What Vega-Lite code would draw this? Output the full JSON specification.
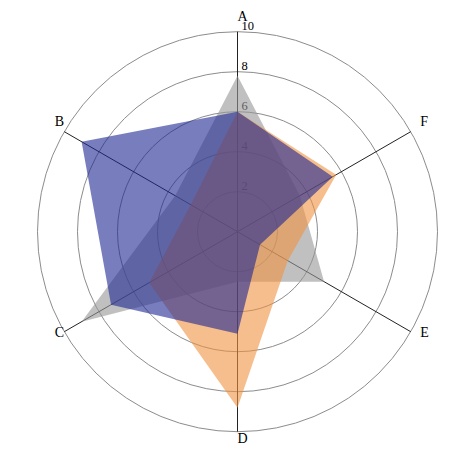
{
  "$schema": "https://vega.github.io/schema/vega-lite/v6.json",
  "width": 474,
  "height": 454,
  "autosize": "none",
  "padding": 0,
  "config": {"view": {"stroke": null}},
  "datasets": {
    "rings": [{"r": 2}, {"r": 4}, {"r": 6}, {"r": 8}, {"r": 10}],
    "spokes": [
      {"axis": "A", "i": 0}, {"axis": "B", "i": 1}, {"axis": "C", "i": 2},
      {"axis": "D", "i": 3}, {"axis": "E", "i": 4}, {"axis": "F", "i": 5}
    ],
    "vals": [
      {"s": "gray", "axis": "A", "i": 0, "v": 7.8},
      {"s": "gray", "axis": "B", "i": 1, "v": 3.6},
      {"s": "gray", "axis": "C", "i": 2, "v": 9},
      {"s": "gray", "axis": "D", "i": 3, "v": 2.5},
      {"s": "gray", "axis": "E", "i": 4, "v": 5},
      {"s": "gray", "axis": "F", "i": 5, "v": 3.6},
      {"s": "orange", "axis": "A", "i": 0, "v": 6},
      {"s": "orange", "axis": "B", "i": 1, "v": 2.7},
      {"s": "orange", "axis": "C", "i": 2, "v": 5.1},
      {"s": "orange", "axis": "D", "i": 3, "v": 8.8},
      {"s": "orange", "axis": "E", "i": 4, "v": 2.9},
      {"s": "orange", "axis": "F", "i": 5, "v": 5.7},
      {"s": "blue", "axis": "A", "i": 0, "v": 6},
      {"s": "blue", "axis": "B", "i": 1, "v": 9},
      {"s": "blue", "axis": "C", "i": 2, "v": 7.3},
      {"s": "blue", "axis": "D", "i": 3, "v": 5.1},
      {"s": "blue", "axis": "E", "i": 4, "v": 1.3},
      {"s": "blue", "axis": "F", "i": 5, "v": 5.5}
    ]
  },
  "layer": [
    {
      "data": {"name": "rings"},
      "transform": [{"calculate": "0", "as": "o"}],
      "mark": {"type": "point", "shape": "circle", "filled": false, "stroke": "#8c8c8c", "strokeWidth": 1, "opacity": 1},
      "encoding": {
        "x": {"field": "o", "type": "quantitative", "scale": {"domain": [-11.875, 11.825], "nice": false, "zero": false}, "axis": null},
        "y": {"field": "o", "type": "quantitative", "scale": {"domain": [-11.115, 11.585], "nice": false, "zero": false}, "axis": null},
        "size": {"field": "r", "type": "quantitative", "scale": {"type": "pow", "exponent": 2, "domain": [0, 10], "range": [0, 160000]}, "legend": null}
      }
    },
    {
      "data": {"name": "spokes"},
      "transform": [
        {"calculate": "0", "as": "o"},
        {"calculate": "(90 + 60 * datum.i) * PI / 180", "as": "a"},
        {"calculate": "10 * cos(datum.a)", "as": "ex"},
        {"calculate": "10 * sin(datum.a)", "as": "ey"}
      ],
      "mark": {"type": "rule", "color": "#222222", "strokeWidth": 1},
      "encoding": {
        "x": {"field": "o", "type": "quantitative", "scale": {"domain": [-11.875, 11.825], "nice": false, "zero": false}, "axis": null},
        "y": {"field": "o", "type": "quantitative", "scale": {"domain": [-11.115, 11.585], "nice": false, "zero": false}, "axis": null},
        "x2": {"field": "ex"},
        "y2": {"field": "ey"}
      }
    },
    {
      "data": {"name": "spokes"},
      "transform": [
        {"calculate": "(90 + 60 * datum.i) * PI / 180", "as": "a"},
        {"calculate": "10.55 * cos(datum.a)", "as": "lx"},
        {"calculate": "10.55 * sin(datum.a)", "as": "ly"}
      ],
      "mark": {"type": "text", "align": "left", "baseline": "alphabetic", "font": "Liberation Serif", "fontSize": 14, "color": "#000000"},
      "encoding": {
        "x": {"field": "lx", "type": "quantitative", "scale": {"domain": [-11.875, 11.825], "nice": false, "zero": false}, "axis": null},
        "y": {"field": "ly", "type": "quantitative", "scale": {"domain": [-11.115, 11.585], "nice": false, "zero": false}, "axis": null},
        "text": {"field": "axis", "type": "nominal"}
      }
    },
    {
      "data": {"name": "rings"},
      "transform": [{"calculate": "0", "as": "o"}],
      "mark": {"type": "text", "align": "left", "baseline": "alphabetic", "dx": 4, "dy": -1.5, "font": "Liberation Serif", "fontSize": 12.5, "color": "#000000"},
      "encoding": {
        "x": {"field": "o", "type": "quantitative", "scale": {"domain": [-11.875, 11.825], "nice": false, "zero": false}, "axis": null},
        "y": {"field": "r", "type": "quantitative", "scale": {"domain": [-11.115, 11.585], "nice": false, "zero": false}, "axis": null},
        "text": {"field": "r", "type": "quantitative"}
      }
    },
    {
      "data": {"name": "vals"},
      "transform": [
        {"filter": "datum.s === 'gray'"},
        {"calculate": "(90 + 60 * datum.i) * PI / 180", "as": "a"},
        {"calculate": "datum.v * cos(datum.a)", "as": "px"},
        {"calculate": "datum.v * sin(datum.a)", "as": "py"}
      ],
      "mark": {"type": "line", "interpolate": "linear-closed", "fill": "#969696", "fillOpacity": 0.6, "stroke": "#969696", "strokeWidth": 0},
      "encoding": {
        "x": {"field": "px", "type": "quantitative", "scale": {"domain": [-11.875, 11.825], "nice": false, "zero": false}, "axis": null},
        "y": {"field": "py", "type": "quantitative", "scale": {"domain": [-11.115, 11.585], "nice": false, "zero": false}, "axis": null},
        "order": {"field": "i", "type": "quantitative"}
      }
    },
    {
      "data": {"name": "vals"},
      "transform": [
        {"filter": "datum.s === 'orange'"},
        {"calculate": "(90 + 60 * datum.i) * PI / 180", "as": "a"},
        {"calculate": "datum.v * cos(datum.a)", "as": "px"},
        {"calculate": "datum.v * sin(datum.a)", "as": "py"}
      ],
      "mark": {"type": "line", "interpolate": "linear-closed", "fill": "#ee933f", "fillOpacity": 0.6, "stroke": "#ee933f", "strokeWidth": 0},
      "encoding": {
        "x": {"field": "px", "type": "quantitative", "scale": {"domain": [-11.875, 11.825], "nice": false, "zero": false}, "axis": null},
        "y": {"field": "py", "type": "quantitative", "scale": {"domain": [-11.115, 11.585], "nice": false, "zero": false}, "axis": null},
        "order": {"field": "i", "type": "quantitative"}
      }
    },
    {
      "data": {"name": "vals"},
      "transform": [
        {"filter": "datum.s === 'blue'"},
        {"calculate": "(90 + 60 * datum.i) * PI / 180", "as": "a"},
        {"calculate": "datum.v * cos(datum.a)", "as": "px"},
        {"calculate": "datum.v * sin(datum.a)", "as": "py"}
      ],
      "mark": {"type": "line", "interpolate": "linear-closed", "fill": "#1e2693", "fillOpacity": 0.6, "stroke": "#1e2693", "strokeWidth": 0},
      "encoding": {
        "x": {"field": "px", "type": "quantitative", "scale": {"domain": [-11.875, 11.825], "nice": false, "zero": false}, "axis": null},
        "y": {"field": "py", "type": "quantitative", "scale": {"domain": [-11.115, 11.585], "nice": false, "zero": false}, "axis": null},
        "order": {"field": "i", "type": "quantitative"}
      }
    }
  ]
}
